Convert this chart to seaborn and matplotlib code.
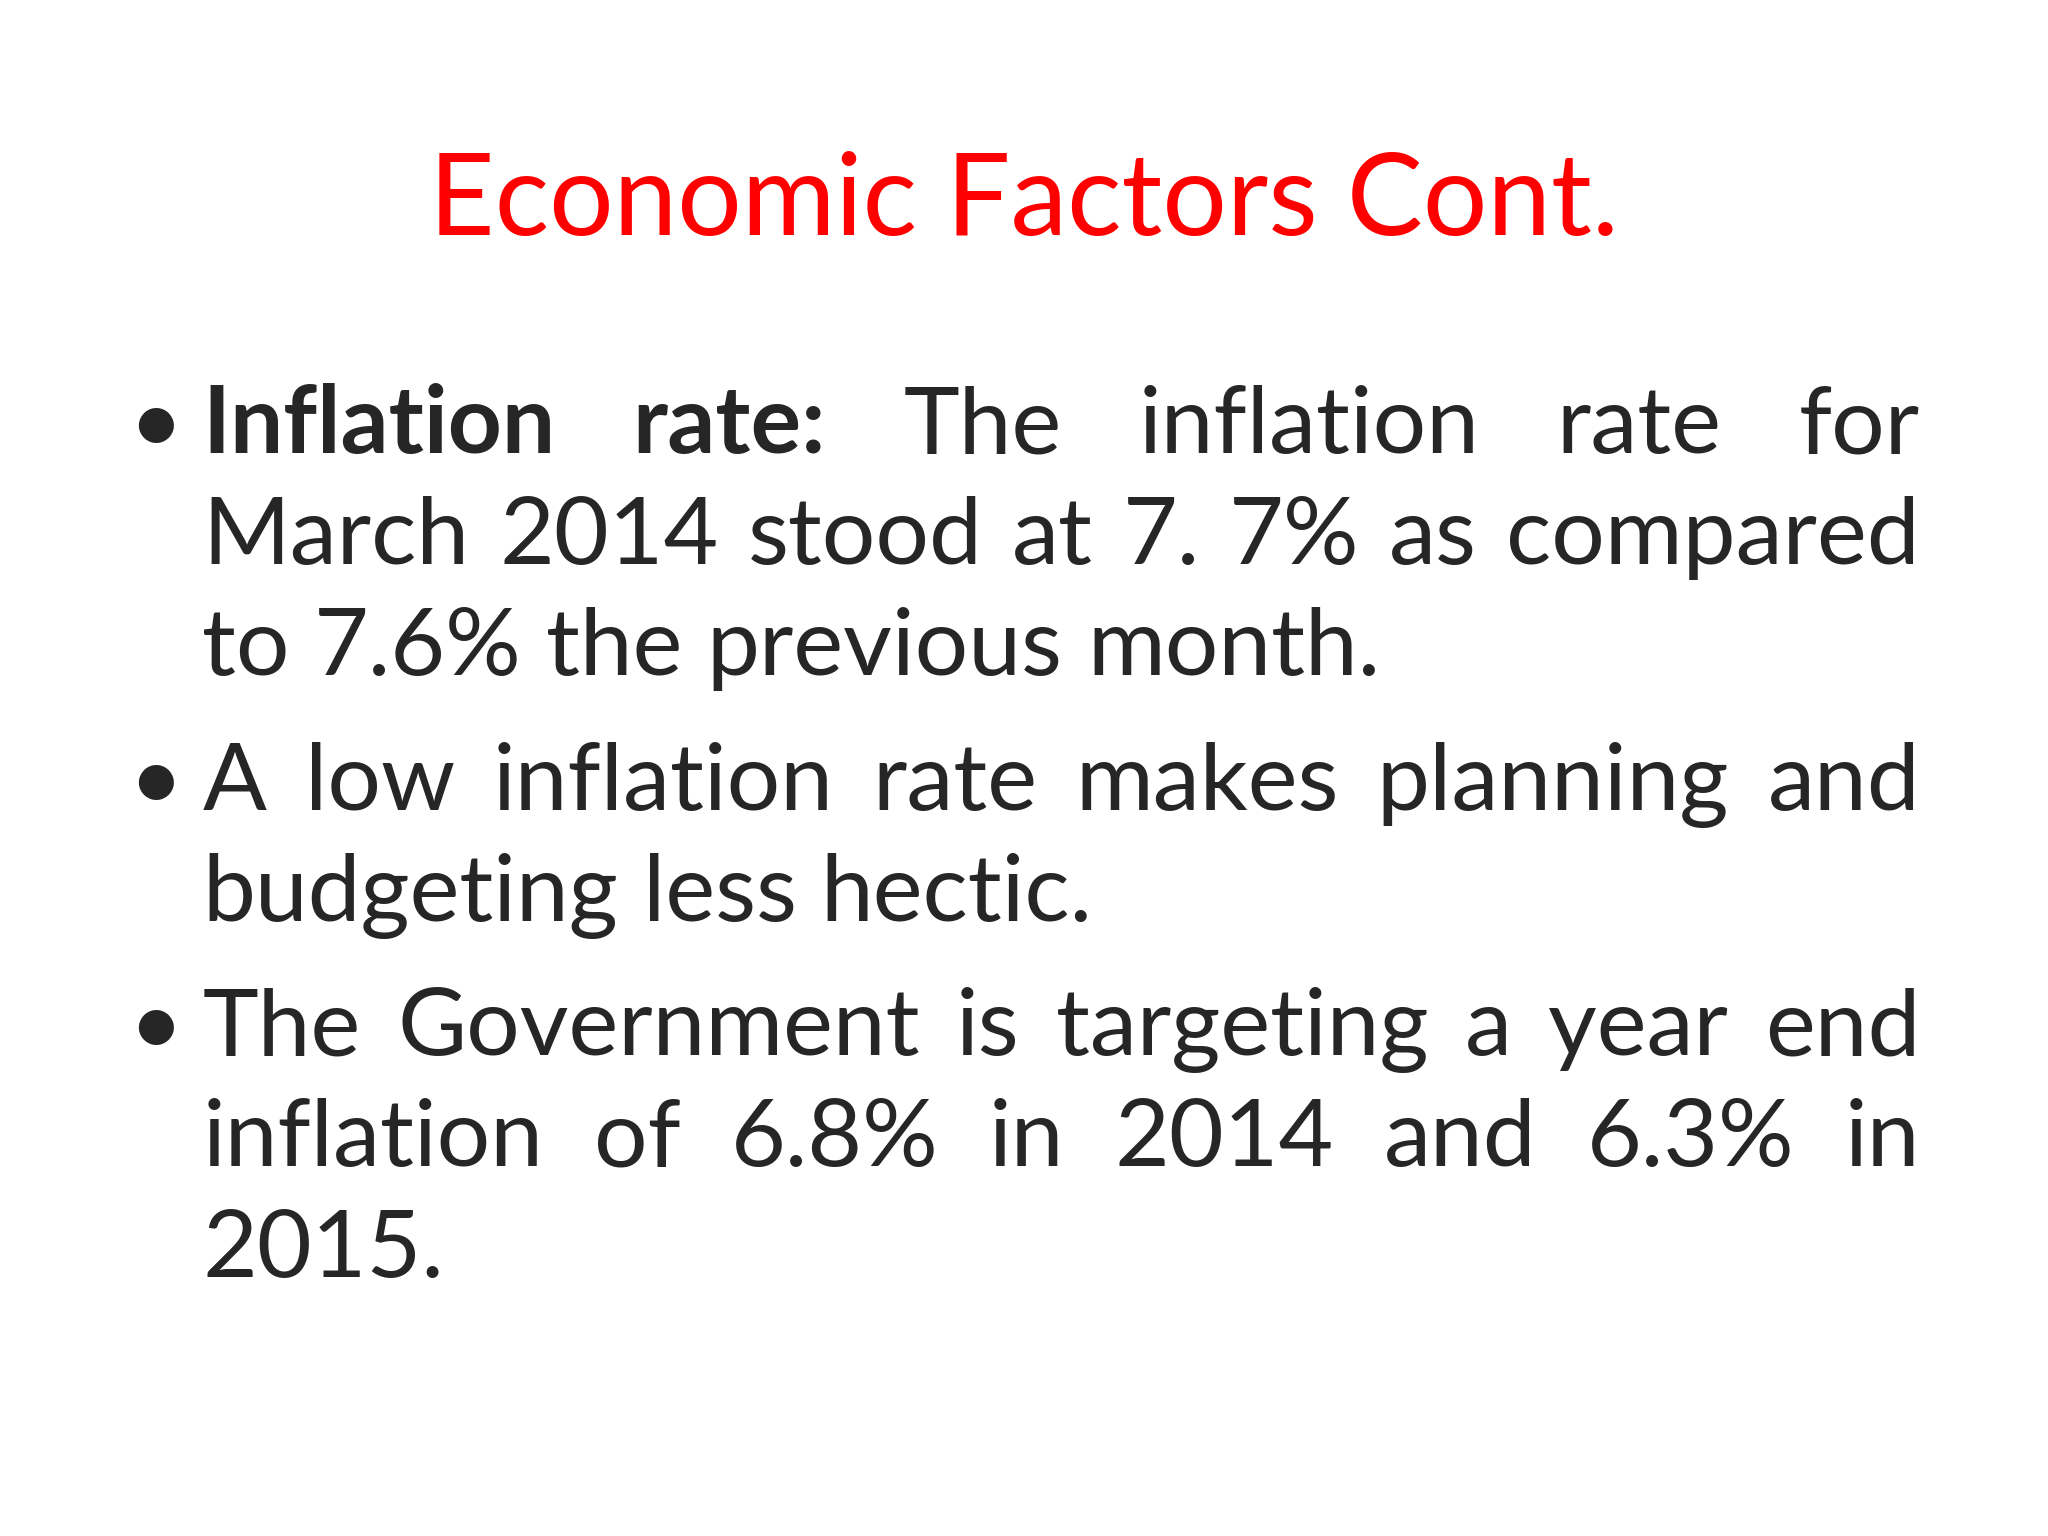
import matplotlib
matplotlib.use("Agg")
import matplotlib.pyplot as plt
import seaborn as sns

sns.set_theme(style="white")
plt.rcParams['font.family'] = ['Lato', 'DejaVu Sans']

W, H = 1568, 1176  # layout measured on the reference at this scale

title = "Economic Factors Cont."

# (bold lead, words) per line; last line of each bullet is not justified
bullets = [
    [
        (["Inflation", "rate:"], ["The", "inflation", "rate", "for"]),
        ([], ["March", "2014", "stood", "at", "7.", "7%", "as", "compared"]),
        ([], ["to", "7.6%", "the", "previous", "month."]),
    ],
    [
        ([], ["A", "low", "inflation", "rate", "makes", "planning", "and"]),
        ([], ["budgeting", "less", "hectic."]),
    ],
    [
        ([], ["The", "Government", "is", "targeting", "a", "year", "end"]),
        ([], ["inflation", "of", "6.8%", "in", "2014", "and", "6.3%", "in"]),
        ([], ["2015."]),
    ],
]
baselines = [347, 432, 517, 620, 705, 808, 893, 978]

fig = plt.figure(figsize=(20.48, 15.36), dpi=100)
fig.patch.set_facecolor("white")
renderer = fig.canvas.get_renderer()
scale = 2048 / W
fs = 68


def fx(x):
    return x / W


def fy(y):
    return 1 - y / H


def width(word, bold):
    t = fig.text(0, 0, word, fontsize=fs, fontweight="bold" if bold else "normal")
    w = t.get_window_extent(renderer).width / scale
    t.remove()
    return w


fig.text(fx(784), fy(180), title, fontsize=82, color="#ff0000",
         ha="center", va="baseline")

left, right = 155, 1470
space = width("a b", False) - width("ab", False)
i = 0
for para in bullets:
    fig.text(fx(98), fy(baselines[i]), "•", fontsize=fs, va="baseline")
    for j, (bold_words, words) in enumerate(para):
        items = [(w, True) for w in bold_words] + [(w, False) for w in words]
        widths = [width(w, b) for w, b in items]
        last = j == len(para) - 1
        if last or len(items) == 1:
            gap = space
        else:
            gap = (right - left - sum(widths)) / (len(items) - 1)
        x = left
        for (w, b), wd in zip(items, widths):
            fig.text(fx(x), fy(baselines[i]), w, fontsize=fs,
                     fontweight="bold" if b else "normal", va="baseline")
            x += wd + gap
        i += 1

fig.savefig("out.png", dpi=100, facecolor="white")
